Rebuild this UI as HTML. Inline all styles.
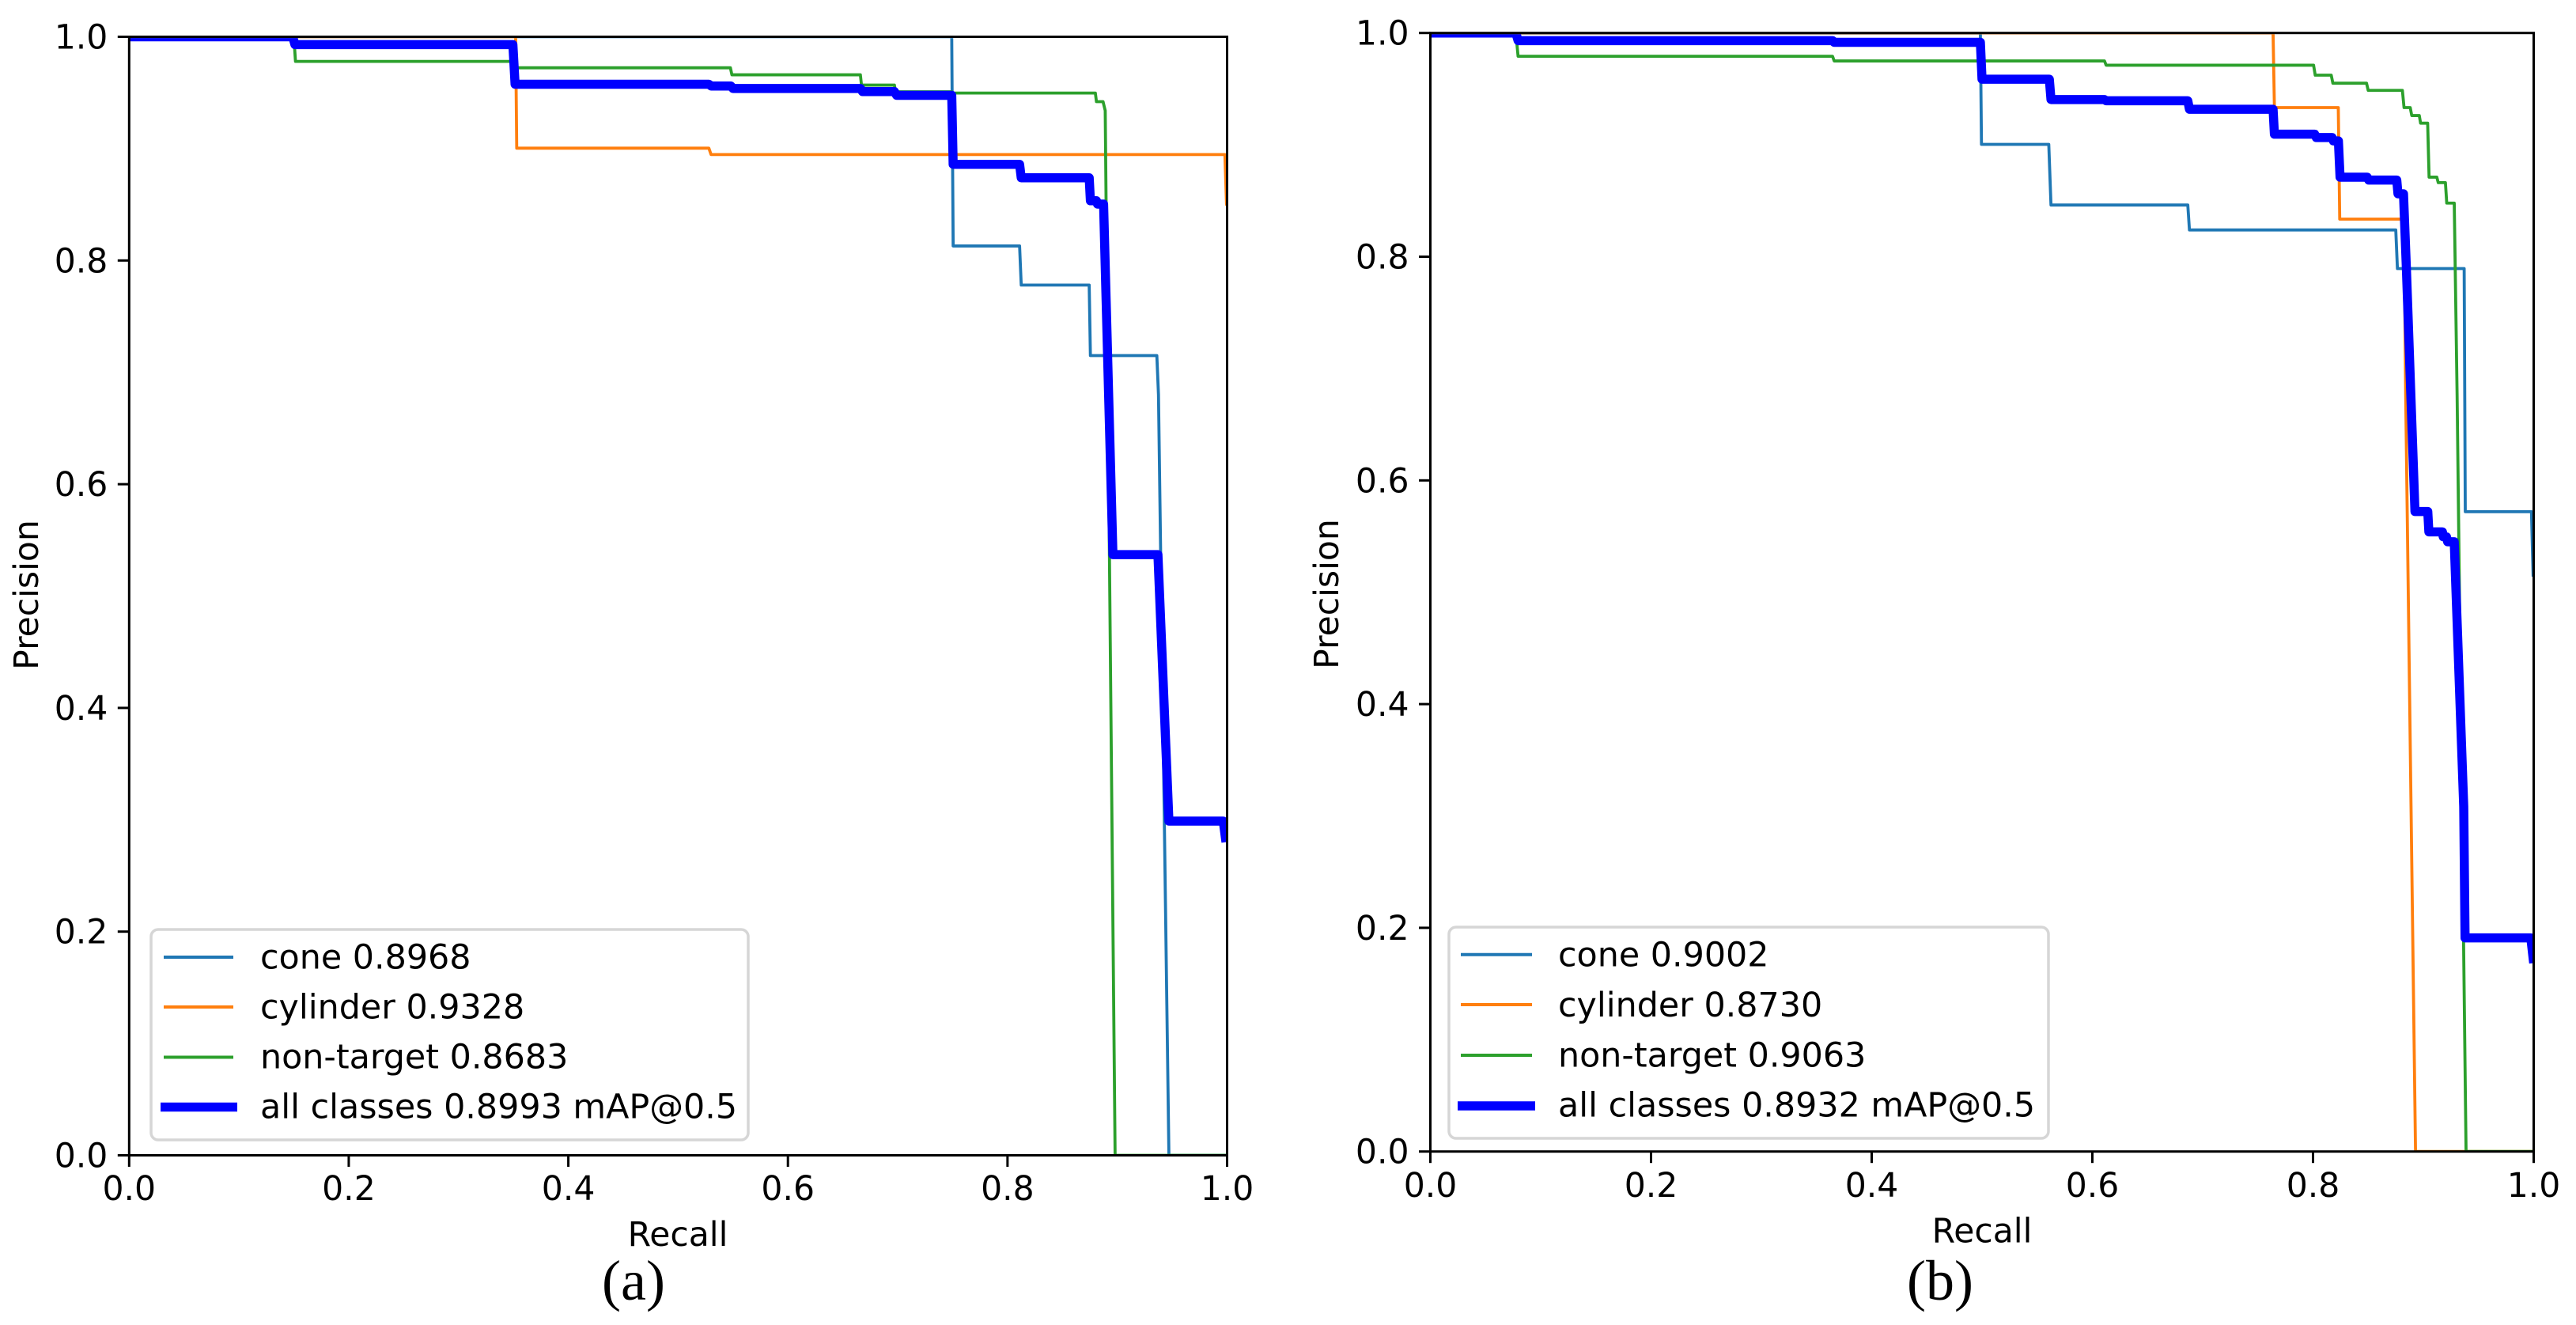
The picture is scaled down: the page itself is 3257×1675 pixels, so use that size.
<!DOCTYPE html>
<html lang="en">
<head>
<meta charset="utf-8">
<title>Precision-Recall curves</title>
<style>
html,body{margin:0;padding:0;background:#fff;}
svg{display:block;}
text{font-family:"DejaVu Sans",sans-serif;fill:#000;}
.cap{font-family:"Liberation Serif",serif;font-size:72px;}
.lab{font-size:42.5px;}
.leg{font-size:42.8px;}
</style>
</head>
<body>
<svg id="fig" xmlns="http://www.w3.org/2000/svg" width="3257" height="1675" viewBox="0 0 3257 1675">
<rect x="0" y="0" width="3257" height="1675" fill="#fff"/>
<g id="panelA"></g>
<g id="panelB"></g>

<text class="lab" x="857" y="1575" text-anchor="middle">Recall</text>
<text class="lab" transform="translate(48,752) rotate(-90)" text-anchor="middle">Precision</text>
<text class="cap" x="801" y="1643" text-anchor="middle">(a)</text>

<text class="lab" x="2506" y="1570.5" text-anchor="middle">Recall</text>
<text class="lab" transform="translate(1692,751) rotate(-90)" text-anchor="middle">Precision</text>
<text class="cap" x="2453" y="1643" text-anchor="middle">(b)</text>

<g>
  <rect x="191" y="1175" width="755" height="266" rx="9" ry="9" fill="#fff" stroke="#d6d6d6" stroke-width="3.5"/>
  <line x1="207" x2="295" y1="1210" y2="1210" stroke="#1f77b4" stroke-width="4"/>
  <line x1="207" x2="295" y1="1273" y2="1273" stroke="#ff7f0e" stroke-width="4"/>
  <line x1="207" x2="295" y1="1336.5" y2="1336.5" stroke="#2ca02c" stroke-width="4"/>
  <line x1="203" x2="300" y1="1399.5" y2="1399.5" stroke="#0000ff" stroke-width="11.5"/>
  <text class="leg" x="329" y="1224.7">cone 0.8968</text>
  <text class="leg" x="329" y="1287.7">cylinder 0.9328</text>
  <text class="leg" x="329" y="1350.5">non-target 0.8683</text>
  <text class="leg" x="329" y="1413.5">all classes 0.8993 mAP@0.5</text>
</g>

<g>
  <rect x="1832" y="1172" width="758" height="267" rx="9" ry="9" fill="#fff" stroke="#d6d6d6" stroke-width="3.5"/>
  <line x1="1847" x2="1937" y1="1206.7" y2="1206.7" stroke="#1f77b4" stroke-width="4"/>
  <line x1="1847" x2="1937" y1="1270" y2="1270" stroke="#ff7f0e" stroke-width="4"/>
  <line x1="1847" x2="1937" y1="1334" y2="1334" stroke="#2ca02c" stroke-width="4"/>
  <line x1="1843" x2="1941" y1="1398" y2="1398" stroke="#0000ff" stroke-width="11.5"/>
  <text class="leg" x="1970" y="1221.7">cone 0.9002</text>
  <text class="leg" x="1970" y="1285">cylinder 0.8730</text>
  <text class="leg" x="1970" y="1348.6">non-target 0.9063</text>
  <text class="leg" x="1970" y="1411.7">all classes 0.8932 mAP@0.5</text>
</g>
</svg>

<script>
// Tick values and labels
const xTickValues = [0, 0.2, 0.4, 0.6, 0.8, 1.0];
const yTickValues = [0, 0.2, 0.4, 0.6, 0.8, 1.0];
const tickLabels = ["0.0", "0.2", "0.4", "0.6", "0.8", "1.0"];

// Panel (a) series
const aConeRecall = [0, 0.7492, 0.7505, 0.811, 0.8125, 0.8744, 0.8755, 0.936, 0.9375, 0.947, 1];
const aConePrecision = [1, 1, 0.813, 0.813, 0.778, 0.778, 0.715, 0.715, 0.68, 0, 0];
const aCylinderRecall = [0, 0.352, 0.353, 0.528, 0.53, 0.998, 0.9995, 1];
const aCylinderPrecision = [1, 1, 0.9004, 0.9004, 0.8947, 0.8947, 0.85, 0.85];
const aNonTargetRecall = [0, 0.15, 0.1515, 0.348, 0.35, 0.5476, 0.549, 0.666, 0.667, 0.697, 0.698, 0.7492, 0.7505, 0.88, 0.881, 0.887, 0.889, 0.898, 1];
const aNonTargetPrecision = [1, 1, 0.978, 0.978, 0.9723, 0.9723, 0.966, 0.966, 0.9568, 0.9568, 0.9508, 0.9508, 0.9497, 0.9497, 0.942, 0.942, 0.934, 0, 0];
const aAllRecall = [0, 0.149, 0.151, 0.3495, 0.3515, 0.528, 0.53, 0.548, 0.55, 0.666, 0.668, 0.697, 0.699, 0.7492, 0.7505, 0.811, 0.8125, 0.8744, 0.8755, 0.881, 0.882, 0.8875, 0.8921, 0.896, 0.937, 0.947, 0.9965, 0.999];
const aAllPrecision = [1, 1, 0.993, 0.993, 0.9576, 0.9576, 0.956, 0.956, 0.9538, 0.9538, 0.951, 0.951, 0.9477, 0.9477, 0.886, 0.886, 0.8739, 0.8739, 0.8534, 0.8534, 0.8504, 0.8504, 0.68, 0.537, 0.537, 0.2988, 0.2988, 0.28];

// Panel (b) series
const bConeRecall = [0, 0.4985, 0.4995, 0.5605, 0.5625, 0.6865, 0.688, 0.875, 0.8765, 0.937, 0.938, 0.998, 0.9995];
const bConePrecision = [1, 1, 0.9004, 0.9004, 0.8462, 0.8462, 0.8239, 0.8239, 0.7894, 0.7894, 0.572, 0.572, 0.514];
const bCylinderRecall = [0, 0.7638, 0.765, 0.8229, 0.8242, 0.8824, 0.884, 0.8929, 1];
const bCylinderPrecision = [1, 1, 0.9333, 0.9333, 0.8336, 0.8336, 0.676, 0, 0];
const bNonTargetRecall = [0, 0.0775, 0.0795, 0.3645, 0.366, 0.611, 0.6125, 0.8005, 0.802, 0.8165, 0.818, 0.8485, 0.85, 0.881, 0.8825, 0.8881, 0.8895, 0.8963, 0.8975, 0.9039, 0.9052, 0.9122, 0.9135, 0.92, 0.9212, 0.928, 0.9306, 0.9387, 1];
const bNonTargetPrecision = [1, 1, 0.9792, 0.9792, 0.975, 0.975, 0.9712, 0.9712, 0.9623, 0.9623, 0.9551, 0.9551, 0.9487, 0.9487, 0.9333, 0.9333, 0.9262, 0.9262, 0.9194, 0.9194, 0.8711, 0.8711, 0.8662, 0.8662, 0.8479, 0.8479, 0.676, 0, 0];
const bAllRecall = [0, 0.0775, 0.0795, 0.3645, 0.366, 0.4985, 0.5, 0.561, 0.5625, 0.611, 0.6125, 0.6865, 0.688, 0.7638, 0.765, 0.8015, 0.803, 0.8173, 0.8185, 0.823, 0.8245, 0.8491, 0.8505, 0.8759, 0.877, 0.882, 0.8846, 0.8886, 0.8924, 0.904, 0.905, 0.9173, 0.918, 0.921, 0.922, 0.928, 0.9366, 0.9378, 0.9974, 1];
const bAllPrecision = [1, 1, 0.9932, 0.9932, 0.9917, 0.9917, 0.9587, 0.9587, 0.9405, 0.9405, 0.9394, 0.9394, 0.9318, 0.9318, 0.9095, 0.9095, 0.9065, 0.9065, 0.9035, 0.9035, 0.8711, 0.8711, 0.8685, 0.8685, 0.8562, 0.8562, 0.79, 0.678, 0.5722, 0.5722, 0.554, 0.554, 0.5496, 0.5496, 0.5451, 0.5451, 0.3083, 0.191, 0.191, 0.1685];

const NS = "http://www.w3.org/2000/svg";

function make(tag, attrs, parent) {
  const el = document.createElementNS(NS, tag);
  for (const k in attrs) el.setAttribute(k, attrs[k]);
  parent.appendChild(el);
  return el;
}

function linePath(xs, ys, sx, sy) {
  return xs.map(function (x, i) {
    return (i ? "L" : "M") + sx(x).toFixed(2) + " " + sy(ys[i]).toFixed(2);
  }).join("");
}

function drawPanel(root, key, box, series) {
  const sx = function (v) { return box.left + v * (box.right - box.left); };
  const sy = function (v) { return box.bottom - v * (box.bottom - box.top); };

  const defs = make("defs", {}, root);
  const clip = make("clipPath", { id: "clip-" + key }, defs);
  make("rect", { x: box.left, y: box.top + 1.6, width: box.right - box.left, height: box.bottom - box.top - 1.6 }, clip);

  const curves = make("g", { "clip-path": "url(#clip-" + key + ")" }, root);
  
  
  series.forEach(function (s) {
    const p = make("path", {
      d: linePath(s.x, s.y, sx, sy),
      fill: "none",
      stroke: s.color,
      "stroke-width": s.width,
      "stroke-linejoin": "round",
      "stroke-linecap": "butt"
    }, curves);
    
    
  });

  const ticks = make("g", { stroke: "#000", "stroke-width": 3 }, root);
  
  
  const labels = make("g", { class: "lab" }, root);
  
  

  xTickValues.forEach(function (v, i) {
    const t = make("line", { x1: sx(v), x2: sx(v), y1: box.bottom, y2: box.bottom + 14.5 }, ticks);
    
    
    const l = make("text", { x: sx(v), y: box.bottom + box.xLabelGap, "text-anchor": "middle" }, labels);
    
    
    l.textContent = tickLabels[i];
  });
  yTickValues.forEach(function (v, i) {
    const t = make("line", { x1: box.left - 14.5, x2: box.left, y1: sy(v), y2: sy(v) }, ticks);
    
    
    const l = make("text", { x: box.left - 27, y: sy(v) + 15, "text-anchor": "end" }, labels);
    
    
    l.textContent = tickLabels[i];
  });

  const frame = make("rect", {
    x: box.left, y: box.top, width: box.right - box.left, height: box.bottom - box.top,
    fill: "none", stroke: "#000", "stroke-width": 3
  }, root);
  
  
}

drawPanel(document.getElementById("panelA"), "a",
  { left: 163.3, right: 1551.5, top: 46.5, bottom: 1460.5, xLabelGap: 56.5 },
  [
    { name: "cone", color: "#1f77b4", width: 3.8, x: aConeRecall, y: aConePrecision },
    { name: "cylinder", color: "#ff7f0e", width: 3.8, x: aCylinderRecall, y: aCylinderPrecision },
    { name: "non-target", color: "#2ca02c", width: 3.8, x: aNonTargetRecall, y: aNonTargetPrecision },
    { name: "all-classes", color: "#0000ff", width: 11.5, x: aAllRecall, y: aAllPrecision }
  ]);

drawPanel(document.getElementById("panelB"), "b",
  { left: 1808.5, right: 3203.5, top: 41.7, bottom: 1455.7, xLabelGap: 57.5 },
  [
    { name: "cone", color: "#1f77b4", width: 3.8, x: bConeRecall, y: bConePrecision },
    { name: "cylinder", color: "#ff7f0e", width: 3.8, x: bCylinderRecall, y: bCylinderPrecision },
    { name: "non-target", color: "#2ca02c", width: 3.8, x: bNonTargetRecall, y: bNonTargetPrecision },
    { name: "all-classes", color: "#0000ff", width: 11.5, x: bAllRecall, y: bAllPrecision }
  ]);
</script>
</body>
</html>
